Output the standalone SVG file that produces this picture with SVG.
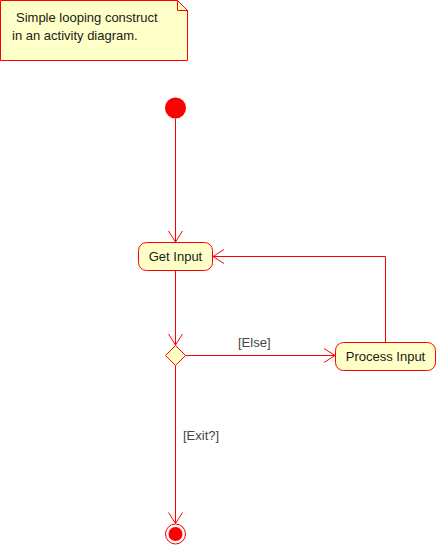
<svg xmlns="http://www.w3.org/2000/svg" width="436" height="546" viewBox="0 0 436 546">
<style>
.shape{fill:#ffffc8;stroke:#ff0000;stroke-width:1}
.edge{fill:none;stroke:#ff0000;stroke-width:1}
.txt{font-family:"Liberation Sans",Arial,sans-serif;font-size:13px;fill:#1a1a1a}
.lbl{font-family:"Liberation Sans",Arial,sans-serif;font-size:13px;fill:#444444}
</style>
<defs>
<marker id="open" markerUnits="userSpaceOnUse" markerWidth="16" markerHeight="18" viewBox="-13 -9 16 18" refX="0" refY="0" orient="auto" overflow="visible">
<path d="M-11,-7 L0,0 L-11,7" fill="none" stroke="#ff0000" stroke-width="1"/>
</marker>
</defs>
<g id="note">
<path class="shape" d="M0.5,0.5 H177.5 L187.5,10.5 V60.5 H0.5 Z"/>
<path class="edge" d="M177.5,0.5 V10.5 H187.5"/>
<text class="txt" x="16" y="22">Simple looping construct</text>
<text class="txt" x="12" y="40">in an activity diagram.</text>
</g>
<g id="connectors">
<path class="edge" d="M175.5,118.5 V242" marker-end="url(#open)"/>
<path class="edge" d="M175.5,270.5 V345" marker-end="url(#open)"/>
<path class="edge" d="M185.5,355.5 H335" marker-end="url(#open)"/>
<path class="edge" d="M385.5,342.5 V256.5 H213" marker-end="url(#open)"/>
<path class="edge" d="M175.5,365.5 V523.5" marker-end="url(#open)"/>
<text class="lbl" x="238" y="347">[Else]</text>
<text class="lbl" x="183" y="440">[Exit?]</text>
</g>
<g id="initial">
<circle cx="175.5" cy="108" r="10.5" fill="#ff0000"/>
</g>
<g id="get-input">
<rect class="shape" x="138.5" y="242.5" width="74" height="28" rx="8"/>
<text class="txt" x="175.5" y="260.5" text-anchor="middle">Get Input</text>
</g>
<g id="decision">
<path class="shape" d="M175.5,345.5 L185.5,355.5 L175.5,365.5 L165.5,355.5 Z"/>
</g>
<g id="process-input">
<rect class="shape" x="335.5" y="342.5" width="100" height="28" rx="8"/>
<text class="txt" x="385.5" y="360.5" text-anchor="middle">Process Input</text>
</g>
<g id="final">
<circle cx="175.5" cy="534" r="10" fill="#ffffff" stroke="#ff0000" stroke-width="1"/>
<circle cx="175.5" cy="534" r="7" fill="#ff0000"/>
</g>
</svg>
